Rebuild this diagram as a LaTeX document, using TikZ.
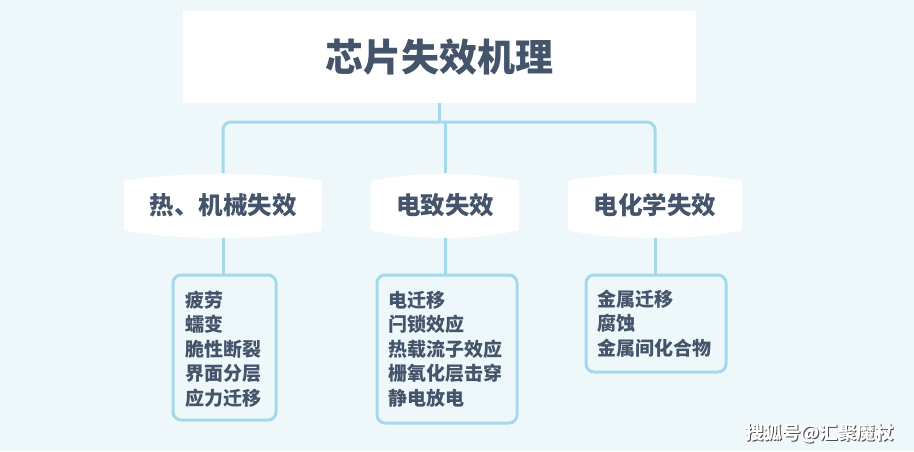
\documentclass[tikz,border=0pt]{standalone}
\usepackage{fontspec}
\setmainfont{Noto Sans CJK SC}
\usetikzlibrary{calc}
\definecolor{bg}{HTML}{EEF7FA}
\definecolor{linkc}{HTML}{A3D9EC}
\definecolor{ink}{HTML}{44546A}

% white lens-like label shape: #1 = left x, #2 = right x
\newcommand\lensshape[2]{%
  \fill[white] (#1,185) .. controls (#1,180.5) .. (#1+9,179.5)
    .. controls ({#1+0.3*(#2-#1)},172) and ({#2-0.3*(#2-#1)},172) .. (#2-9,179.5)
    .. controls (#2,180.5) .. (#2,185) -- (#2,226)
    .. controls (#2,231) .. (#2-9,232)
    .. controls ({#2-0.3*(#2-#1)},240) and ({#1+0.3*(#2-#1)},240) .. (#1+9,232)
    .. controls (#1,231) .. (#1,226) -- cycle;}

\tikzset{
  root/.style={fill=white, minimum width=513pt, minimum height=92pt, inner sep=0pt,
    text=ink, font=\fontsize{38}{40}\selectfont\bfseries},
  cat/.style={minimum height=65pt, inner sep=0pt, text=ink,
    font=\fontsize{24.5}{26}\selectfont\bfseries},
  listbox/.style={draw=linkc, line width=3pt, rounded corners=8pt, inner sep=0pt},
  % the base anchor of a multi-line node sits on its last line
  listtext/.style={anchor=base west, align=left, inner sep=0pt, text=ink,
    font=\fontsize{19}{24.5}\selectfont\bfseries},
  link/.style={draw=linkc, line width=3pt},
}

\begin{document}
\begin{tikzpicture}[x=1pt,y=-1pt]
  \fill[bg] (0,0) rectangle (914,451);
  \useasboundingbox (0,0) rectangle (914,451);

  % title box
  \node[root] (root) at (439.5,57) {芯片失效机理};

  % category labels
  \lensshape{124}{322}
  \lensshape{371}{519}
  \lensshape{568}{742}
  \node[cat, minimum width=198pt] (h1) at (223,205.5) {热、机械失效};
  \node[cat, minimum width=148pt] (h2) at (445,205.5) {电致失效};
  \node[cat, minimum width=174pt] (h3) at (655,205.5) {电化学失效};

  % detail boxes
  \node[listbox, minimum width=103pt, minimum height=145pt] (l1) at (224.5,347.5) {};
  \node[listbox, minimum width=140pt, minimum height=148pt] (l2) at (447,349) {};
  \node[listbox, minimum width=140pt, minimum height=97pt] (l3) at (656,323.5) {};

  \node[listtext] (t1) at (185,405) {疲劳\\蠕变\\脆性断裂\\界面分层\\应力迁移};
  \node[listtext] (t2) at (388,405) {电迁移\\闩锁效应\\热载流子效应\\栅氧化层击穿\\静电放电};
  \node[listtext] (t3) at (597,355) {金属迁移\\腐蚀\\金属间化合物};

  % connectors
  \coordinate (hub) at (445,122);
  \draw[link] (root.south) -- (root.south |- hub);
  \draw[link, rounded corners=8pt] (h1.north) |- (hub) -| (h3.north);
  \draw[link] (hub) -- (h2.north);
  \draw[link] (h1.south) -- (h1.south |- l1.north);
  \draw[link] (h2.south) -- (h2.south |- l2.north);
  \draw[link] (h3.south) -- (h3.south |- l3.north);

  % watermark
  \node[anchor=base west, inner sep=0pt, text=black!70, font=\fontsize{18.5}{20}\selectfont\bfseries]
    (wms) at (746,440) {搜狐号@汇聚魔杖};
  \node[anchor=base west, inner sep=0pt, text=white, font=\fontsize{18.5}{20}\selectfont\bfseries]
    (wm) at (745,439) {搜狐号@汇聚魔杖};
\end{tikzpicture}
\end{document}
